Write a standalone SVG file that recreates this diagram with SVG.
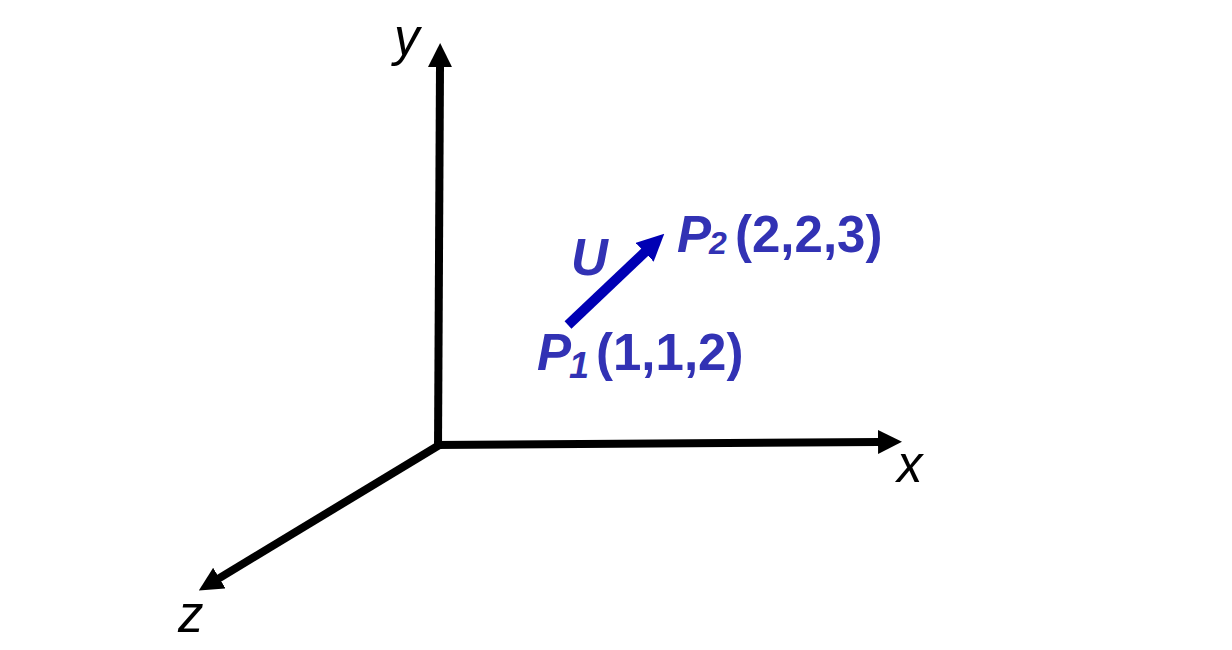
<svg xmlns="http://www.w3.org/2000/svg" width="1232" height="650" viewBox="0 0 1232 650">
<style>
.axis{stroke:#000;stroke-width:8;fill:none;stroke-linecap:butt}
.vec{stroke:#0000b4;stroke-width:10;fill:none;stroke-linecap:butt}
.lbl{font-family:"Liberation Sans",Arial,sans-serif;font-style:italic;font-size:51px;fill:#000}
.pt{font-family:"Liberation Sans",Arial,sans-serif;font-weight:bold;font-size:51px;fill:#3232b4}
.it{font-style:italic}
.sub{font-style:italic}
</style>
<defs>
<marker id="ah" viewBox="0 -12 24 24" markerWidth="24" markerHeight="24" refX="1" refY="0" orient="auto" markerUnits="userSpaceOnUse">
<path d="M0,-12 L24,0 L0,12 z" fill="#000"/>
</marker>
<marker id="ahb" viewBox="0 -13 27 26" markerWidth="27" markerHeight="26" refX="1" refY="0" orient="auto" markerUnits="userSpaceOnUse">
<path d="M0,-13 L27,0 L0,13 z" fill="#0000b4"/>
</marker>
</defs>
<rect width="1232" height="650" fill="#fff"/>
<g id="connectors">
<line id="y-axis" class="axis" x1="438" y1="449" x2="440" y2="66" marker-end="url(#ah)"/>
<line id="x-axis" class="axis" x1="434" y1="445" x2="879" y2="442" marker-end="url(#ah)"/>
<line id="z-axis" class="axis" x1="441" y1="444" x2="218.5" y2="578.6" marker-end="url(#ah)"/>
<line id="vector-U" class="vec" x1="568" y1="325" x2="645.4" y2="251.6" marker-end="url(#ahb)"/>
</g>
<g id="label-y"><text class="lbl" x="394" y="55">y</text></g>
<g id="label-x"><text class="lbl" x="897" y="482">x</text></g>
<g id="label-z"><text class="lbl" x="178" y="632">z</text></g>
<g id="label-U"><text class="pt it" x="571" y="275">U</text></g>
<g id="node-P2"><text class="pt" x="677" y="252"><tspan class="it">P</tspan><tspan class="sub" x="709" dy="2" font-size="32">2</tspan><tspan x="735" dy="-2">(2,2,3)</tspan></text></g>
<g id="node-P1"><text class="pt" x="537" y="370"><tspan class="it">P</tspan><tspan class="sub" x="569" dy="8" font-size="36">1</tspan><tspan x="596" dy="-8">(1,1,2)</tspan></text></g>
</svg>
